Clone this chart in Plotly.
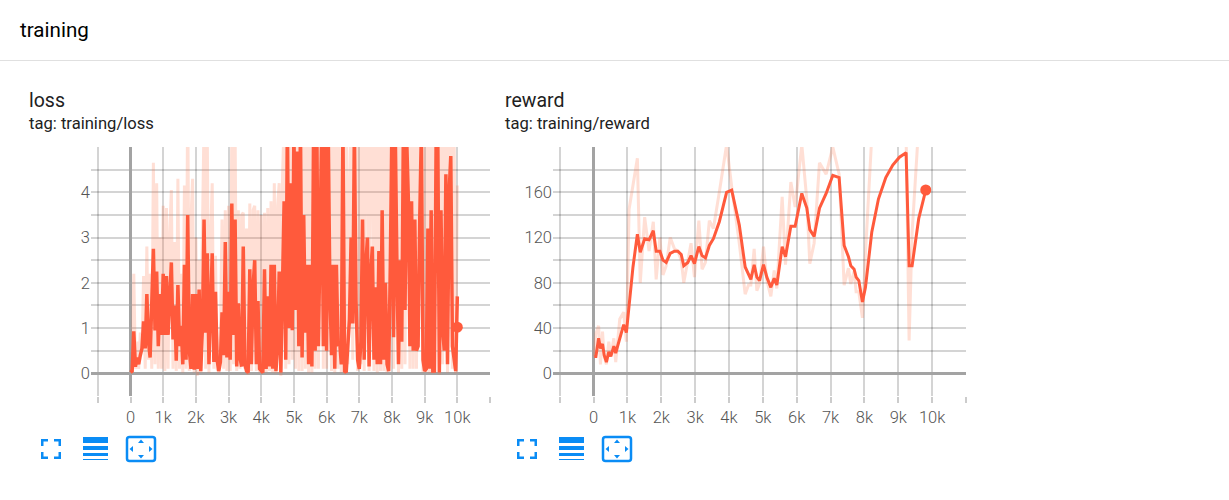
import plotly.graph_objects as go

W, H = 1229, 500
RED = "#ff5a3c"
PALE = "#ff7043"
BLUE = "#0a8cf5"
GRID = "rgba(0,0,0,0.17)"
AXIS = "#a3a3a3"

# loss, one value every 50 steps
loss_steps = list(range(0, 10001, 50))
loss_smooth = [
    0.02, 0.05, 0.93, 0.15, 0.35, 0.2, 0.4, 0.55, 1.15, 0.55, 1.75, 0.7, 0.35, 1.7, 2.75, 0.95, 2.25, 0.6, 1.75, 0.85,
    2.2, 0.85, 2.15, 0.85, 1.8, 2.45, 0.75, 1.5, 0.28, 1.95, 0.6, 1.05, 0.2, 2.4, 0.3, 3.5, 0.5, 0.1, 1.75, 0.08,
    1.75, 0.1, 1.85, 0.05, 1.0, 3.4, 0.9, 2.65, 0.2, 1.7, 2.65, 0.25, 1.8, 0.3, 0.05, 0.25, 1.35, 0.4, 2.9, 0.35,
    1.8, 0.3, 3.75, 0.85, 3.4, 0.15, 1.55, 0.35, 0.15, 2.8, 0.2, 0.05, 0.02, 2.3, 0.2, 1.9, 2.5, 0.2, 1.6, 0.1,
    0.05, 0.02, 2.3, 0.1, 1.7, 0.15, 2.4, 0.1, 2.4, 0.05, 0.6, 2.25, 0.02, 1.6, 3.8, 0.3, 5.6, 1.0, 4.2, 0.95,
    5.4, 1.4, 4.9, 0.6, 5.5, 0.35, 3.5, 0.9, 2.4, 0.2, 2.4, 0.15, 5.2, 0.5, 5.6, 0.6, 2.6, 5.4, 0.6, 5.2,
    0.5, 5.4, 1.9, 0.4, 2.4, 0.1, 2.4, 0.6, 0.7, 0.2, 5.5, 0.05, 0.02, 0.7, 1.2, 3.0, 1.1, 5.4, 1.6, 0.3,
    0.1, 0.7, 3.4, 0.3, 2.4, 3.0, 0.15, 2.2, 2.8, 0.3, 1.9, 0.2, 2.7, 0.2, 3.6, 0.3, 2.0, 0.2, 0.05, 2.4,
    5.6, 0.8, 5.4, 2.5, 0.2, 2.5, 0.7, 5.5, 1.4, 5.2, 3.9, 0.6, 3.8, 0.5, 3.4, 0.5, 0.6, 3.4, 5.4, 0.3,
    0.05, 0.1, 3.2, 0.1, 3.6, 0.05, 0.05, 5.0, 5.5, 0.02, 3.6, 1.0, 0.5, 4.4, 0.2, 4.0, 4.8, 0.6, 0.3, 0.05,
    1.7,
]
loss_raw = [
    0.02, 0.1, 2.2, 0.1, 0.7, 0.1, 0.9, 0.5, 2.15, 0.1, 2.8, 0.3, 2.2, 0.1, 4.65, 0.2, 4.2, 0.1, 3.0, 0.1,
    3.7, 0.05, 3.65, 0.1, 3.1, 4.05, 0.1, 2.9, 0.05, 4.3, 0.1, 2.2, 0.02, 4.15, 0.1, 6.2, 0.05, 3.4, 4.3, 0.02,
    3.0, -0.05, 2.5, 0.02, 3.05, 5.6, 0.1, 5.2, 0.02, 3.0, 4.2, 0.1, 2.6, 0.1, 0.02, 0.8, 3.4, 0.1, 3.6, 0.05,
    3.7, 0.05, 5.5, 0.2, 5.4, 0.05, 3.6, 0.1, 3.5, 3.55, 0.1, 3.2, -0.03, 3.75, 0.05, 3.6, 3.7, 0.05, 3.6, 0.02,
    3.5, 0.0, 3.55, 0.02, 3.65, 0.05, 3.8, 0.02, 4.2, 0.0, 3.7, 4.2, -0.05, 4.3, 5.6, 0.1, 6.5, 0.2, 7.0, 0.3,
    7.0, 0.1, 6.5, 0.05, 7.2, 0.05, 6.4, 0.1, 5.8, 0.02, 6.0, 0.02, 7.0, 0.1, 7.5, 0.1, 6.0, 7.0, 0.1, 6.5,
    0.1, 7.0, 6.0, 0.05, 6.2, 0.02, 5.7, 0.1, 6.0, 0.02, 7.0, 0.0, 6.2, 0.2, 4.0, 6.0, 0.3, 7.0, 5.5, 0.05,
    6.0, 0.2, 6.5, 0.05, 6.0, 6.2, 0.05, 5.8, 6.0, 0.05, 5.5, 0.02, 6.0, 0.05, 6.5, 0.05, 5.5, 0.02, 5.4, 6.0,
    7.0, 0.1, 7.0, 6.0, 0.02, 6.0, 0.1, 7.0, 0.2, 6.5, 6.2, 0.1, 6.0, 0.1, 5.8, 0.1, 6.0, 5.6, 6.8, 0.02,
    6.0, 0.02, 5.7, 0.0, 6.0, 0.0, 5.6, 6.5, 7.0, -0.03, 5.5, 0.2, 5.8, 6.0, 0.02, 5.8, 6.2, 0.1, 5.5, 0.0,
    4.15,
]
loss_dot_step = [10000]
loss_dot_value = [1.02]

# reward
reward_steps = [
    20, 70, 150, 205, 265, 315, 380, 450, 510, 600, 655, 775, 890, 970, 1050, 1165, 1295, 1380, 1510, 1640,
    1765, 1850, 1960, 2050, 2145, 2265, 2390, 2490, 2590, 2665, 2785, 2880, 2980, 3110, 3205, 3305, 3420, 3540,
    3715, 3930, 4080, 4305, 4478, 4577, 4646, 4744, 4823, 4902, 5020, 5118, 5236, 5335, 5413, 5571, 5669, 5827,
    5954, 6151, 6299, 6387, 6515, 6673, 6870, 7066, 7253, 7401, 7529, 7598, 7696, 7755, 7834, 7942, 8031, 8218,
    8414, 8631, 8838, 9034, 9231, 9320, 9408, 9605, 9812,
]
reward_smooth = [
    15, 15, 31, 22, 26, 16, 10, 19, 15, 24, 18, 32, 43, 36, 62, 94, 123, 107, 119, 118,
    126, 108, 108, 100, 98, 106, 108, 108, 105, 95, 98, 104, 97, 112, 104, 102, 113, 119,
    134, 160, 162, 131, 94, 87, 83, 96, 85, 82, 96, 85, 76, 84, 78, 112, 103, 130,
    130, 159, 146, 127, 121, 146, 159, 175, 173, 113, 103, 95, 92, 85, 82, 63, 76, 125,
    154, 173, 184, 191, 195, 95, 95, 137, 162,
]
reward_raw = [
    15, 35, 42, 8, 37, 15, 8, 28, 15, 31, 10, 48, 54, 28, 145, 165, 190, 80, 138, 108,
    134, 83, 120, 87, 95, 120, 110, 108, 100, 80, 100, 115, 85, 135, 92, 98, 135, 128,
    160, 202, 165, 115, 70, 78, 78, 110, 73, 79, 112, 82, 68, 91, 75, 156, 96, 169,
    147, 202, 153, 97, 115, 186, 176, 200, 176, 78, 93, 79, 90, 72, 72, 49, 106, 210,
    260, 240, 230, 220, 210, 29, 124, 220, 205,
]
reward_dot_step = [9812]
reward_dot_value = [162]

x_ticks = [-1000, 0, 1000, 2000, 3000, 4000, 5000, 6000, 7000, 8000, 9000, 10000, 11000]
x_labels = ["", "0", "1k", "2k", "3k", "4k", "5k", "6k", "7k", "8k", "9k", "10k", ""]
loss_ticks = [-0.5, 0, 0.5, 1, 1.5, 2, 2.5, 3, 3.5, 4, 4.5, 5]
loss_labels = ["", "0", "", "1", "", "2", "", "3", "", "4", "", ""]
reward_ticks = [-20, 0, 20, 40, 60, 80, 100, 120, 140, 160, 180, 200]
reward_labels = ["", "0", "", "40", "", "80", "", "120", "", "160", "", ""]

assert len(loss_smooth) == len(loss_steps) and len(loss_raw) == len(loss_steps)
assert len(reward_smooth) == len(reward_steps) and len(reward_raw) == len(reward_steps)


def px(x):
    return x / W


def py(y):
    return 1 - y / H


fig = go.Figure()


def add_panel(n, steps, raw, smooth, dot_x, dot_y, width):
    xa, ya = f"x{n}", f"y{n}"
    fig.add_trace(go.Scatter(x=steps, y=raw, mode="lines", xaxis=xa, yaxis=ya,
                             line=dict(color=PALE, width=3), opacity=0.22))
    fig.add_trace(go.Scatter(x=steps, y=smooth, mode="lines", xaxis=xa, yaxis=ya,
                             line=dict(color=RED, width=width)))
    fig.add_trace(go.Scatter(x=dot_x, y=dot_y, mode="markers", xaxis=xa, yaxis=ya,
                             marker=dict(color=RED, size=11), cliponaxis=False))


add_panel("", loss_steps, loss_raw, loss_smooth, loss_dot_step, loss_dot_value, 3.5)
add_panel("2", reward_steps, reward_raw, reward_smooth, reward_dot_step, reward_dot_value, 3)

TICK_FONT = dict(family="Roboto", size=16.5, color="#555555", weight=300)


def x_axis(domain, left, anchor):
    return dict(domain=[px(domain[0]), px(domain[1])], range=[left, 11000], anchor=anchor,
                tickvals=x_ticks, ticktext=x_labels, ticks="outside", ticklen=6, tickcolor="#cccccc", tickwidth=1.6,
                tickfont=TICK_FONT,
                showgrid=True, gridcolor=GRID, gridwidth=1.6,
                zeroline=True, zerolinecolor=AXIS, zerolinewidth=2.5, showline=False)


def y_axis(rng, ticks, labels, anchor):
    return dict(domain=[py(396), py(147)], range=rng, anchor=anchor,
                tickvals=ticks, ticktext=labels, ticks="",
                tickfont=TICK_FONT,
                showgrid=True, gridcolor=GRID, gridwidth=1.6,
                zeroline=True, zerolinecolor=AXIS, zerolinewidth=2.5, showline=False)


shapes = [dict(type="line", xref="paper", yref="paper", x0=0, x1=1, y0=py(60.5), y1=py(60.5),
               line=dict(color="#e0e0e0", width=1))]


def bar(x0, y0, x1, y1):
    shapes.append(dict(type="rect", xref="paper", yref="paper", x0=px(x0), x1=px(x1), y0=py(y0), y1=py(y1),
                       fillcolor=BLUE, line=dict(width=0)))


def outline(pts, fill=BLUE, line=None, curved=False):
    # pts are pixel positions on the page, so convert them to paper coordinates
    if curved:
        x0, y0, x1, y1, r = pts
        path = (f"M {px(x0 + r)},{py(y0)} L {px(x1 - r)},{py(y0)} Q {px(x1)},{py(y0)} {px(x1)},{py(y0 + r)} "
                f"L {px(x1)},{py(y1 - r)} Q {px(x1)},{py(y1)} {px(x1 - r)},{py(y1)} "
                f"L {px(x0 + r)},{py(y1)} Q {px(x0)},{py(y1)} {px(x0)},{py(y1 - r)} "
                f"L {px(x0)},{py(y0 + r)} Q {px(x0)},{py(y0)} {px(x0 + r)},{py(y0)} Z")
    else:
        path = "M " + " L ".join(f"{px(a):.5f},{py(b):.5f}" for a, b in pts) + " Z"
    shapes.append(dict(type="path", xref="paper", yref="paper", path=path, fillcolor=fill,
                       line=line or dict(width=0)))


def add_icons(o):
    # fullscreen corners
    for x0, x1, xb0, xb1 in [(41, 48, 41, 43.5), (54, 61, 58.5, 61)]:
        bar(o + x0, 439, o + x1, 441.5)
        bar(o + xb0, 439, o + xb1, 446)
        bar(o + x0, 456.5, o + x1, 459)
        bar(o + xb0, 452, o + xb1, 459)
    # legend lines
    bar(o + 83, 437, o + 108, 443)
    bar(o + 83, 446, o + 108, 450)
    bar(o + 83, 453, o + 108, 456)
    bar(o + 83, 459, o + 108, 460)
    # fit domain frame
    outline((o + 127, 437, o + 155, 461, 2.5), fill="rgba(0,0,0,0)", line=dict(color=BLUE, width=2.5), curved=True)
    outline([(o + 141, 439.5), (o + 138, 443), (o + 144, 443)])
    outline([(o + 141, 458.5), (o + 138, 455), (o + 144, 455)])
    outline([(o + 129.5, 449), (o + 133, 446), (o + 133, 452)])
    outline([(o + 152.5, 449), (o + 149, 446), (o + 149, 452)])


add_icons(0)
add_icons(476)


def label(text, x, y, size, color="#212121"):
    # annotations carry about 2 px of padding on the left
    return dict(text=text, x=px(x - 2), y=py(y), xref="paper", yref="paper", xanchor="left", yanchor="middle",
                showarrow=False, font=dict(family="Roboto", size=size, color=color))


annotations = [
    label("training", 20, 30, 20.6, "#000000"),
    label("loss", 29, 101, 19.5),
    label("tag: training/loss", 29, 123, 16.6),
    label("reward", 505, 101, 19.5),
    label("tag: training/reward", 505, 123, 16.6),
]

fig.update_layout(
    width=W, height=H, margin=dict(l=0, r=0, t=0, b=0),
    paper_bgcolor="white", plot_bgcolor="white", showlegend=False,
    font=dict(family="Roboto"),
    xaxis=x_axis((91, 490), -1209, "y"),
    yaxis=y_axis([-0.5, 5], loss_ticks, loss_labels, "x"),
    xaxis2=x_axis((553, 966), -1197, "y2"),
    yaxis2=y_axis([-20, 200], reward_ticks, reward_labels, "x2"),
    shapes=shapes, annotations=annotations,
)

fig.write_html("out.html", config={"displayModeBar": False},
               post_script="document.body.style.margin='0';document.body.style.overflow='hidden';")
